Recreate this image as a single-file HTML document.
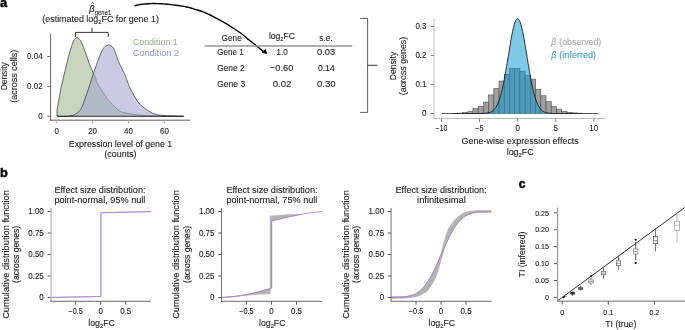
<!DOCTYPE html>
<html><head><meta charset="utf-8"><title>Figure</title>
<style>
html,body{margin:0;padding:0;background:#fff;}
svg{display:block;font-family:"Liberation Sans",sans-serif;}
</style></head><body>
<svg width="685" height="330" viewBox="0 0 685 330">
<rect width="685" height="330" fill="#fff"/>
<text x="-0.1" y="6.5" font-size="12.8" font-weight="bold" fill="#000" stroke="#000" stroke-width="0.45">a</text>
<path d="M57.00 116.30 L57.00 109.80 L57.19 108.79 L57.46 107.42 L57.77 105.78 L58.11 103.98 L58.46 102.12 L58.80 100.30 L59.13 98.48 L59.46 96.56 L59.79 94.58 L60.14 92.57 L60.51 90.57 L60.90 88.60 L61.32 86.65 L61.76 84.69 L62.23 82.72 L62.69 80.78 L63.15 78.87 L63.60 77.00 L64.02 75.20 L64.43 73.46 L64.84 71.76 L65.24 70.05 L65.66 68.31 L66.10 66.50 L66.56 64.59 L67.04 62.61 L67.52 60.59 L68.02 58.58 L68.51 56.64 L69.00 54.80 L69.49 53.04 L69.99 51.31 L70.49 49.64 L70.99 48.06 L71.46 46.60 L71.90 45.30 L72.31 44.17 L72.69 43.19 L73.04 42.33 L73.39 41.56 L73.74 40.86 L74.10 40.20 L74.47 39.57 L74.83 38.99 L75.20 38.47 L75.57 38.04 L75.93 37.71 L76.30 37.50 L76.67 37.44 L77.03 37.51 L77.40 37.68 L77.77 37.93 L78.13 38.21 L78.50 38.50 L78.86 38.77 L79.21 39.04 L79.56 39.35 L79.91 39.74 L80.29 40.24 L80.70 40.90 L81.14 41.74 L81.61 42.74 L82.11 43.85 L82.61 45.04 L83.11 46.27 L83.60 47.50 L84.08 48.75 L84.57 50.06 L85.05 51.41 L85.53 52.77 L86.02 54.14 L86.50 55.50 L86.98 56.85 L87.47 58.22 L87.95 59.59 L88.43 60.96 L88.92 62.30 L89.40 63.60 L89.88 64.87 L90.36 66.12 L90.84 67.35 L91.33 68.56 L91.81 69.74 L92.30 70.90 L92.81 72.05 L93.35 73.20 L93.89 74.32 L94.41 75.40 L94.89 76.44 L95.30 77.40 L95.61 78.27 L95.83 79.06 L96.01 79.79 L96.18 80.50 L96.40 81.23 L96.70 82.00 L97.10 82.83 L97.55 83.69 L98.05 84.56 L98.57 85.43 L99.09 86.28 L99.60 87.10 L100.10 87.87 L100.60 88.62 L101.10 89.34 L101.60 90.06 L102.10 90.77 L102.60 91.50 L103.09 92.23 L103.57 92.97 L104.06 93.70 L104.54 94.43 L105.02 95.17 L105.50 95.90 L105.98 96.65 L106.47 97.42 L106.95 98.19 L107.43 98.94 L107.92 99.65 L108.40 100.30 L108.88 100.87 L109.37 101.38 L109.85 101.84 L110.33 102.29 L110.82 102.73 L111.30 103.20 L111.78 103.68 L112.26 104.17 L112.74 104.65 L113.23 105.13 L113.71 105.62 L114.20 106.10 L114.70 106.59 L115.20 107.09 L115.70 107.59 L116.20 108.09 L116.70 108.56 L117.20 109.00 L117.69 109.42 L118.17 109.82 L118.66 110.21 L119.14 110.57 L119.62 110.90 L120.10 111.20 L120.58 111.46 L121.07 111.69 L121.55 111.89 L122.03 112.07 L122.52 112.24 L123.00 112.40 L123.45 112.54 L123.86 112.66 L124.26 112.77 L124.71 112.87 L125.24 112.98 L125.90 113.10 L126.71 113.24 L127.65 113.39 L128.67 113.54 L129.73 113.69 L130.79 113.85 L131.80 114.00 L132.76 114.15 L133.71 114.31 L134.66 114.47 L135.61 114.62 L136.59 114.77 L137.60 114.90 L138.62 115.02 L139.64 115.13 L140.69 115.23 L141.78 115.33 L142.94 115.42 L144.20 115.50 L145.50 115.58 L146.80 115.65 L148.17 115.72 L149.69 115.78 L151.41 115.84 L153.40 115.90 L155.77 115.96 L158.50 116.01 L161.43 116.06 L164.41 116.11 L167.32 116.16 L170.00 116.20 L172.60 116.24 L175.26 116.28 L177.84 116.32 L180.19 116.35 L182.16 116.38 L183.60 116.40 L183.60 116.30 Z" fill="rgba(160,184,146,0.58)" stroke="#262626" stroke-width="0.7" stroke-linejoin="round"/>
<path d="M57.00 116.30 L58.21 116.31 L59.95 116.33 L61.98 116.34 L64.06 116.35 L65.98 116.34 L67.50 116.30 L68.60 116.23 L69.45 116.15 L70.13 116.04 L70.72 115.92 L71.28 115.77 L71.90 115.60 L72.55 115.41 L73.16 115.21 L73.74 114.99 L74.32 114.73 L74.90 114.44 L75.50 114.10 L76.12 113.72 L76.76 113.29 L77.39 112.83 L78.02 112.33 L78.63 111.79 L79.20 111.20 L79.73 110.60 L80.23 109.98 L80.70 109.32 L81.16 108.59 L81.63 107.76 L82.10 106.80 L82.58 105.68 L83.06 104.43 L83.54 103.07 L84.03 101.65 L84.51 100.22 L85.00 98.80 L85.50 97.39 L86.00 95.96 L86.50 94.50 L87.00 93.03 L87.50 91.56 L88.00 90.10 L88.49 88.64 L88.97 87.18 L89.46 85.72 L89.94 84.25 L90.42 82.78 L90.90 81.30 L91.38 79.80 L91.87 78.28 L92.35 76.75 L92.83 75.23 L93.32 73.74 L93.80 72.30 L94.28 70.91 L94.77 69.56 L95.25 68.24 L95.73 66.93 L96.22 65.62 L96.70 64.30 L97.18 62.95 L97.66 61.58 L98.14 60.21 L98.63 58.86 L99.11 57.55 L99.60 56.30 L100.10 55.08 L100.60 53.89 L101.10 52.72 L101.60 51.63 L102.10 50.61 L102.60 49.70 L103.09 48.90 L103.57 48.19 L104.06 47.56 L104.54 47.00 L105.02 46.52 L105.50 46.10 L105.98 45.75 L106.47 45.47 L106.95 45.26 L107.43 45.11 L107.92 45.03 L108.40 45.00 L108.89 45.04 L109.39 45.17 L109.89 45.35 L110.39 45.58 L110.86 45.83 L111.30 46.10 L111.71 46.36 L112.09 46.61 L112.44 46.89 L112.79 47.23 L113.14 47.66 L113.50 48.20 L113.87 48.87 L114.23 49.66 L114.60 50.53 L114.97 51.46 L115.33 52.42 L115.70 53.40 L116.07 54.42 L116.43 55.52 L116.80 56.66 L117.17 57.79 L117.53 58.88 L117.90 59.90 L118.27 60.84 L118.63 61.74 L119.00 62.60 L119.37 63.43 L119.73 64.22 L120.10 65.00 L120.47 65.73 L120.83 66.42 L121.20 67.07 L121.57 67.73 L121.93 68.39 L122.30 69.10 L122.68 69.86 L123.06 70.66 L123.45 71.48 L123.83 72.29 L124.18 73.07 L124.50 73.80 L124.78 74.46 L125.02 75.07 L125.24 75.65 L125.46 76.22 L125.67 76.80 L125.90 77.40 L126.14 78.01 L126.37 78.61 L126.60 79.21 L126.84 79.85 L127.11 80.54 L127.40 81.30 L127.73 82.17 L128.08 83.14 L128.46 84.17 L128.84 85.20 L129.23 86.19 L129.60 87.10 L129.96 87.91 L130.31 88.64 L130.66 89.34 L131.01 90.03 L131.39 90.74 L131.80 91.50 L132.24 92.31 L132.71 93.16 L133.21 94.02 L133.71 94.89 L134.21 95.75 L134.70 96.60 L135.18 97.45 L135.67 98.31 L136.15 99.17 L136.63 100.00 L137.12 100.78 L137.60 101.50 L138.08 102.14 L138.57 102.71 L139.05 103.24 L139.53 103.74 L140.02 104.22 L140.50 104.70 L140.98 105.17 L141.46 105.63 L141.94 106.06 L142.43 106.49 L142.91 106.90 L143.40 107.30 L143.89 107.69 L144.37 108.06 L144.86 108.42 L145.35 108.78 L145.86 109.14 L146.40 109.50 L146.97 109.87 L147.56 110.25 L148.18 110.62 L148.79 111.00 L149.40 111.36 L150.00 111.70 L150.56 112.03 L151.08 112.34 L151.60 112.64 L152.14 112.94 L152.73 113.22 L153.40 113.50 L154.15 113.78 L154.95 114.06 L155.80 114.33 L156.70 114.58 L157.63 114.81 L158.60 115.00 L159.61 115.15 L160.65 115.27 L161.74 115.37 L162.86 115.45 L164.01 115.52 L165.20 115.60 L166.40 115.68 L167.61 115.75 L168.85 115.81 L170.15 115.87 L171.52 115.94 L173.00 116.00 L174.73 116.07 L176.72 116.15 L178.79 116.22 L180.75 116.30 L182.41 116.36 L183.60 116.40 L183.60 116.30 L57.00 116.30 Z" fill="rgba(160,166,204,0.58)" stroke="#262626" stroke-width="0.7" stroke-linejoin="round"/>
<line x1="50.60" y1="34.00" x2="50.60" y2="120.60" stroke="#3a3a3a" stroke-width="0.8"/>
<line x1="50.20" y1="120.20" x2="190.40" y2="120.20" stroke="#3a3a3a" stroke-width="0.8"/>
<line x1="47.20" y1="116.30" x2="50.60" y2="116.30" stroke="#555" stroke-width="0.8"/>
<text x="42.60" y="118.80" font-size="8.4" text-anchor="end" fill="#222" stroke="#222" stroke-width="0.1" textLength="4.44" lengthAdjust="spacingAndGlyphs">0</text>
<line x1="47.20" y1="86.40" x2="50.60" y2="86.40" stroke="#555" stroke-width="0.8"/>
<text x="42.60" y="88.90" font-size="8.4" text-anchor="end" fill="#222" stroke="#222" stroke-width="0.1" textLength="15.53" lengthAdjust="spacingAndGlyphs">0.02</text>
<line x1="47.20" y1="56.50" x2="50.60" y2="56.50" stroke="#555" stroke-width="0.8"/>
<text x="42.60" y="59.00" font-size="8.4" text-anchor="end" fill="#222" stroke="#222" stroke-width="0.1" textLength="15.53" lengthAdjust="spacingAndGlyphs">0.04</text>
<line x1="56.70" y1="120.40" x2="56.70" y2="123.60" stroke="#aaa" stroke-width="0.9"/>
<text x="56.70" y="133.50" font-size="8.4" text-anchor="middle" fill="#222" stroke="#222" stroke-width="0.1" textLength="4.44" lengthAdjust="spacingAndGlyphs">0</text>
<line x1="92.60" y1="120.40" x2="92.60" y2="123.60" stroke="#aaa" stroke-width="0.9"/>
<text x="92.60" y="133.50" font-size="8.4" text-anchor="middle" fill="#222" stroke="#222" stroke-width="0.1" textLength="8.88" lengthAdjust="spacingAndGlyphs">20</text>
<line x1="128.50" y1="120.40" x2="128.50" y2="123.60" stroke="#aaa" stroke-width="0.9"/>
<text x="128.50" y="133.50" font-size="8.4" text-anchor="middle" fill="#222" stroke="#222" stroke-width="0.1" textLength="8.88" lengthAdjust="spacingAndGlyphs">40</text>
<line x1="164.40" y1="120.40" x2="164.40" y2="123.60" stroke="#aaa" stroke-width="0.9"/>
<text x="164.40" y="133.50" font-size="8.4" text-anchor="middle" fill="#222" stroke="#222" stroke-width="0.1" textLength="8.88" lengthAdjust="spacingAndGlyphs">60</text>
<text x="120.50" y="146.90" font-size="9.2" text-anchor="middle" fill="#222" stroke="#222" stroke-width="0.1" textLength="103.50" lengthAdjust="spacingAndGlyphs">Expression level of gene 1</text>
<text x="120.50" y="156.90" font-size="9.2" text-anchor="middle" fill="#222" stroke="#222" stroke-width="0.1" textLength="32.23" lengthAdjust="spacingAndGlyphs">(counts)</text>
<text x="7.40" y="76.30" font-size="9.2" text-anchor="middle" fill="#222" stroke="#222" stroke-width="0.1" textLength="28.00" lengthAdjust="spacingAndGlyphs" transform="rotate(-90 7.40 76.30)">Density</text>
<text x="17.00" y="76.30" font-size="9.2" text-anchor="middle" fill="#222" stroke="#222" stroke-width="0.1" textLength="53.00" lengthAdjust="spacingAndGlyphs" transform="rotate(-90 17.00 76.30)">(across cells)</text>
<path d="M75.5 36.8 V32.4 H108.2 V36.8 M92 32.4 V27.6" fill="none" stroke="#222" stroke-width="0.9" />
<text x="100.60" y="22.10" font-size="9.2" text-anchor="middle" fill="#222" stroke="#222" stroke-width="0.1" textLength="116.60" lengthAdjust="spacingAndGlyphs">(estimated log<tspan font-size="6" dy="1.9">2</tspan><tspan dy="-1.9">FC</tspan> for gene 1)</text>
<text x="89.30" y="11.60" font-size="9.3" text-anchor="start" fill="#222" stroke="#222" stroke-width="0.1" textLength="5.35" lengthAdjust="spacingAndGlyphs" font-style="italic">β</text>
<text x="91.50" y="6.40" font-size="5.2" text-anchor="start" fill="#222" stroke="#222" stroke-width="0.1" textLength="2.44" lengthAdjust="spacingAndGlyphs">^</text>
<text x="94.80" y="14.60" font-size="6.6" text-anchor="start" fill="#222" stroke="#222" stroke-width="0.1" textLength="16.40" lengthAdjust="spacingAndGlyphs">gene1</text>
<text x="132.80" y="45.20" font-size="9.2" text-anchor="start" fill="#9cb68f" stroke="#9cb68f" stroke-width="0.1" textLength="45.00" lengthAdjust="spacingAndGlyphs">Condition 1</text>
<text x="132.80" y="55.70" font-size="9.2" text-anchor="start" fill="#9aa0cc" stroke="#9aa0cc" stroke-width="0.1" textLength="46.10" lengthAdjust="spacingAndGlyphs">Condition 2</text>
<path d="M134.40 5.70 L135.41 5.50 L136.81 5.21 L138.47 4.88 L140.25 4.56 L142.00 4.30 L143.76 4.10 L145.63 3.93 L147.54 3.79 L149.45 3.68 L151.30 3.60 L153.08 3.56 L154.82 3.55 L156.54 3.58 L158.26 3.63 L160.00 3.70 L161.72 3.79 L163.40 3.90 L165.10 4.04 L166.88 4.21 L168.80 4.40 L170.94 4.63 L173.26 4.90 L175.64 5.20 L177.93 5.50 L180.00 5.80 L181.82 6.09 L183.48 6.37 L185.03 6.66 L186.52 6.97 L188.00 7.30 L189.45 7.66 L190.82 8.04 L192.18 8.44 L193.55 8.86 L195.00 9.30 L196.55 9.76 L198.17 10.23 L199.81 10.73 L201.44 11.25 L203.00 11.80 L204.36 12.32 L205.56 12.79 L206.79 13.33 L208.27 14.03 L210.20 15.00 L212.71 16.29 L215.67 17.84 L218.87 19.56 L222.15 21.38 L225.30 23.20 L228.46 25.12 L231.74 27.18 L234.97 29.27 L237.95 31.25 L240.50 33.00 L242.49 34.46 L244.05 35.71 L245.36 36.84 L246.62 37.95 L248.00 39.10 L249.51 40.30 L251.02 41.49 L252.54 42.68 L254.07 43.88 L255.60 45.10 L257.27 46.46 L259.08 47.94 L260.83 49.38 L262.34 50.62 L263.40 51.50" fill="none" stroke="#000" stroke-width="1.4" />
<path d="M267.2 53.9 L261.7 52.8 L265.6 48.7 Z" fill="#000"/>
<text x="231.70" y="40.70" font-size="9.2" text-anchor="middle" fill="#222" stroke="#222" stroke-width="0.1" textLength="20.20" lengthAdjust="spacingAndGlyphs">Gene</text>
<text x="281.90" y="39.20" font-size="9.2" text-anchor="middle" fill="#222" stroke="#222" stroke-width="0.1" textLength="26.00" lengthAdjust="spacingAndGlyphs">log<tspan font-size="6" dy="1.9">2</tspan><tspan dy="-1.9">FC</tspan></text>
<text x="326.00" y="40.70" font-size="9.2" text-anchor="middle" fill="#222" stroke="#222" stroke-width="0.1" textLength="13.30" lengthAdjust="spacingAndGlyphs">s.e.</text>
<line x1="204.80" y1="46.00" x2="352.30" y2="46.00" stroke="#959595" stroke-width="1.4"/>
<text x="217.20" y="55.20" font-size="9.2" text-anchor="start" fill="#222" stroke="#222" stroke-width="0.1" textLength="26.50" lengthAdjust="spacingAndGlyphs">Gene 1</text>
<text x="282.10" y="55.20" font-size="9.2" text-anchor="middle" fill="#222" stroke="#222" stroke-width="0.1" textLength="11.20" lengthAdjust="spacingAndGlyphs">1.0</text>
<text x="326.10" y="55.20" font-size="9.2" text-anchor="middle" fill="#222" stroke="#222" stroke-width="0.1" textLength="18.20" lengthAdjust="spacingAndGlyphs">0.03</text>
<text x="217.20" y="71.00" font-size="9.2" text-anchor="start" fill="#222" stroke="#222" stroke-width="0.1" textLength="27.50" lengthAdjust="spacingAndGlyphs">Gene 2</text>
<text x="281.60" y="71.00" font-size="9.2" text-anchor="middle" fill="#222" stroke="#222" stroke-width="0.1" textLength="23.50" lengthAdjust="spacingAndGlyphs">−0.60</text>
<text x="326.30" y="71.00" font-size="9.2" text-anchor="middle" fill="#222" stroke="#222" stroke-width="0.1" textLength="16.80" lengthAdjust="spacingAndGlyphs">0.14</text>
<text x="217.20" y="87.00" font-size="9.2" text-anchor="start" fill="#222" stroke="#222" stroke-width="0.1" textLength="28.00" lengthAdjust="spacingAndGlyphs">Gene 3</text>
<text x="282.00" y="87.00" font-size="9.2" text-anchor="middle" fill="#222" stroke="#222" stroke-width="0.1" textLength="18.60" lengthAdjust="spacingAndGlyphs">0.02</text>
<text x="326.30" y="87.00" font-size="9.2" text-anchor="middle" fill="#222" stroke="#222" stroke-width="0.1" textLength="18.80" lengthAdjust="spacingAndGlyphs">0.30</text>
<path d="M360.2 18.5 H367.6 V112.4 H360.2" fill="none" stroke="#333" stroke-width="0.8" />
<line x1="367.60" y1="65.30" x2="377.40" y2="65.30" stroke="#333" stroke-width="1.0"/>
<rect x="452.06" y="113.36" width="5.22" height="0.14" fill="#a0a0a0" stroke="#4c4c4c" stroke-width="0.6"/>
<rect x="457.28" y="113.15" width="5.22" height="0.35" fill="#a0a0a0" stroke="#4c4c4c" stroke-width="0.6"/>
<rect x="462.50" y="112.63" width="5.22" height="0.87" fill="#a0a0a0" stroke="#4c4c4c" stroke-width="0.6"/>
<rect x="467.72" y="111.70" width="5.22" height="1.80" fill="#a0a0a0" stroke="#4c4c4c" stroke-width="0.6"/>
<rect x="472.94" y="108.66" width="5.22" height="4.84" fill="#a0a0a0" stroke="#4c4c4c" stroke-width="0.6"/>
<rect x="478.16" y="106.54" width="5.22" height="6.96" fill="#a0a0a0" stroke="#4c4c4c" stroke-width="0.6"/>
<rect x="483.38" y="102.05" width="5.22" height="11.46" fill="#a0a0a0" stroke="#4c4c4c" stroke-width="0.6"/>
<rect x="488.60" y="94.94" width="5.22" height="18.56" fill="#a0a0a0" stroke="#4c4c4c" stroke-width="0.6"/>
<rect x="493.82" y="88.56" width="5.22" height="24.94" fill="#a0a0a0" stroke="#4c4c4c" stroke-width="0.6"/>
<rect x="499.04" y="81.02" width="5.22" height="32.48" fill="#a0a0a0" stroke="#4c4c4c" stroke-width="0.6"/>
<rect x="504.26" y="74.35" width="5.22" height="39.15" fill="#a0a0a0" stroke="#4c4c4c" stroke-width="0.6"/>
<rect x="509.48" y="68.38" width="5.22" height="45.12" fill="#a0a0a0" stroke="#4c4c4c" stroke-width="0.6"/>
<rect x="514.70" y="68.38" width="5.22" height="45.12" fill="#a0a0a0" stroke="#4c4c4c" stroke-width="0.6"/>
<rect x="519.92" y="71.16" width="5.22" height="42.34" fill="#a0a0a0" stroke="#4c4c4c" stroke-width="0.6"/>
<rect x="525.14" y="75.51" width="5.22" height="37.99" fill="#a0a0a0" stroke="#4c4c4c" stroke-width="0.6"/>
<rect x="530.36" y="79.14" width="5.22" height="34.36" fill="#a0a0a0" stroke="#4c4c4c" stroke-width="0.6"/>
<rect x="535.58" y="89.43" width="5.22" height="24.07" fill="#a0a0a0" stroke="#4c4c4c" stroke-width="0.6"/>
<rect x="540.80" y="95.81" width="5.22" height="17.69" fill="#a0a0a0" stroke="#4c4c4c" stroke-width="0.6"/>
<rect x="546.02" y="101.61" width="5.22" height="11.89" fill="#a0a0a0" stroke="#4c4c4c" stroke-width="0.6"/>
<rect x="551.24" y="106.54" width="5.22" height="6.96" fill="#a0a0a0" stroke="#4c4c4c" stroke-width="0.6"/>
<rect x="556.46" y="109.15" width="5.22" height="4.35" fill="#a0a0a0" stroke="#4c4c4c" stroke-width="0.6"/>
<rect x="561.68" y="111.35" width="5.22" height="2.15" fill="#a0a0a0" stroke="#4c4c4c" stroke-width="0.6"/>
<rect x="566.90" y="112.34" width="5.22" height="1.16" fill="#a0a0a0" stroke="#4c4c4c" stroke-width="0.6"/>
<rect x="572.12" y="112.92" width="5.22" height="0.58" fill="#a0a0a0" stroke="#4c4c4c" stroke-width="0.6"/>
<rect x="577.34" y="113.21" width="5.22" height="0.29" fill="#a0a0a0" stroke="#4c4c4c" stroke-width="0.6"/>
<path d="M441.78 113.50 L442.54 113.50 L443.31 113.50 L444.07 113.50 L444.83 113.50 L445.59 113.50 L446.35 113.50 L447.12 113.50 L447.88 113.50 L448.64 113.50 L449.40 113.50 L450.16 113.50 L450.93 113.50 L451.69 113.50 L452.45 113.50 L453.21 113.50 L453.97 113.50 L454.73 113.50 L455.50 113.50 L456.26 113.50 L457.02 113.50 L457.78 113.50 L458.54 113.50 L459.31 113.50 L460.07 113.50 L460.83 113.50 L461.59 113.50 L462.35 113.50 L463.12 113.50 L463.88 113.50 L464.64 113.50 L465.40 113.50 L466.16 113.50 L466.93 113.50 L467.69 113.50 L468.45 113.50 L469.21 113.50 L469.97 113.50 L470.74 113.50 L471.50 113.50 L472.26 113.50 L473.02 113.50 L473.78 113.50 L474.55 113.50 L475.31 113.50 L476.07 113.50 L476.83 113.49 L477.59 113.49 L478.36 113.49 L479.12 113.48 L479.88 113.47 L480.64 113.46 L481.40 113.45 L482.17 113.43 L482.93 113.41 L483.69 113.38 L484.45 113.34 L485.21 113.28 L485.98 113.21 L486.74 113.12 L487.50 113.00 L488.26 112.85 L489.02 112.66 L489.79 112.42 L490.55 112.12 L491.31 111.76 L492.07 111.31 L492.83 110.77 L493.60 110.12 L494.36 109.33 L495.12 108.40 L495.88 107.31 L496.64 106.02 L497.41 104.54 L498.17 102.83 L498.93 100.88 L499.69 98.67 L500.45 96.19 L501.22 93.43 L501.98 90.39 L502.74 87.06 L503.50 83.46 L504.26 79.60 L505.03 75.50 L505.79 71.19 L506.55 66.70 L507.31 62.09 L508.07 57.40 L508.84 52.69 L509.60 48.02 L510.36 43.47 L511.12 39.11 L511.88 35.00 L512.65 31.22 L513.41 27.83 L514.17 24.91 L514.93 22.49 L515.69 20.64 L516.46 19.38 L517.22 18.75 L517.98 18.75 L518.74 19.38 L519.50 20.64 L520.27 22.49 L521.03 24.91 L521.79 27.83 L522.55 31.22 L523.31 35.00 L524.08 39.11 L524.84 43.47 L525.60 48.02 L526.36 52.69 L527.12 57.40 L527.89 62.09 L528.65 66.70 L529.41 71.19 L530.17 75.50 L530.93 79.60 L531.70 83.46 L532.46 87.06 L533.22 90.39 L533.98 93.43 L534.74 96.19 L535.51 98.67 L536.27 100.88 L537.03 102.83 L537.79 104.54 L538.55 106.02 L539.32 107.31 L540.08 108.40 L540.84 109.33 L541.60 110.12 L542.36 110.77 L543.13 111.31 L543.89 111.76 L544.65 112.12 L545.41 112.42 L546.17 112.66 L546.94 112.85 L547.70 113.00 L548.46 113.12 L549.22 113.21 L549.98 113.28 L550.75 113.34 L551.51 113.38 L552.27 113.41 L553.03 113.43 L553.79 113.45 L554.56 113.46 L555.32 113.47 L556.08 113.48 L556.84 113.49 L557.60 113.49 L558.37 113.49 L559.13 113.50 L559.89 113.50 L560.65 113.50 L561.41 113.50 L562.18 113.50 L562.94 113.50 L563.70 113.50 L564.46 113.50 L565.22 113.50 L565.99 113.50 L566.75 113.50 L567.51 113.50 L568.27 113.50 L569.03 113.50 L569.80 113.50 L570.56 113.50 L571.32 113.50 L572.08 113.50 L572.84 113.50 L573.61 113.50 L574.37 113.50 L575.13 113.50 L575.89 113.50 L576.65 113.50 L577.42 113.50 L578.18 113.50 L578.94 113.50 L579.70 113.50 L580.46 113.50 L581.23 113.50 L581.99 113.50 L582.75 113.50 L583.51 113.50 L584.27 113.50 L585.04 113.50 L585.80 113.50 L586.56 113.50 L587.32 113.50 L588.08 113.50 L588.85 113.50 L589.61 113.50 L590.37 113.50 L591.13 113.50 L591.89 113.50 L592.66 113.50 L593.42 113.50 L594.18 113.50 L594.94 113.50 L595.70 113.50 L596.47 113.50 L597.23 113.50 L597.99 113.50 L597.99 113.50 L441.78 113.50 Z" fill="rgba(0,150,206,0.5)" stroke="none" stroke-width="0.6" />
<path d="M441.78 113.50 L442.54 113.50 L443.31 113.50 L444.07 113.50 L444.83 113.50 L445.59 113.50 L446.35 113.50 L447.12 113.50 L447.88 113.50 L448.64 113.50 L449.40 113.50 L450.16 113.50 L450.93 113.50 L451.69 113.50 L452.45 113.50 L453.21 113.50 L453.97 113.50 L454.73 113.50 L455.50 113.50 L456.26 113.50 L457.02 113.50 L457.78 113.50 L458.54 113.50 L459.31 113.50 L460.07 113.50 L460.83 113.50 L461.59 113.50 L462.35 113.50 L463.12 113.50 L463.88 113.50 L464.64 113.50 L465.40 113.50 L466.16 113.50 L466.93 113.50 L467.69 113.50 L468.45 113.50 L469.21 113.50 L469.97 113.50 L470.74 113.50 L471.50 113.50 L472.26 113.50 L473.02 113.50 L473.78 113.50 L474.55 113.50 L475.31 113.50 L476.07 113.50 L476.83 113.49 L477.59 113.49 L478.36 113.49 L479.12 113.48 L479.88 113.47 L480.64 113.46 L481.40 113.45 L482.17 113.43 L482.93 113.41 L483.69 113.38 L484.45 113.34 L485.21 113.28 L485.98 113.21 L486.74 113.12 L487.50 113.00 L488.26 112.85 L489.02 112.66 L489.79 112.42 L490.55 112.12 L491.31 111.76 L492.07 111.31 L492.83 110.77 L493.60 110.12 L494.36 109.33 L495.12 108.40 L495.88 107.31 L496.64 106.02 L497.41 104.54 L498.17 102.83 L498.93 100.88 L499.69 98.67 L500.45 96.19 L501.22 93.43 L501.98 90.39 L502.74 87.06 L503.50 83.46 L504.26 79.60 L505.03 75.50 L505.79 71.19 L506.55 66.70 L507.31 62.09 L508.07 57.40 L508.84 52.69 L509.60 48.02 L510.36 43.47 L511.12 39.11 L511.88 35.00 L512.65 31.22 L513.41 27.83 L514.17 24.91 L514.93 22.49 L515.69 20.64 L516.46 19.38 L517.22 18.75 L517.98 18.75 L518.74 19.38 L519.50 20.64 L520.27 22.49 L521.03 24.91 L521.79 27.83 L522.55 31.22 L523.31 35.00 L524.08 39.11 L524.84 43.47 L525.60 48.02 L526.36 52.69 L527.12 57.40 L527.89 62.09 L528.65 66.70 L529.41 71.19 L530.17 75.50 L530.93 79.60 L531.70 83.46 L532.46 87.06 L533.22 90.39 L533.98 93.43 L534.74 96.19 L535.51 98.67 L536.27 100.88 L537.03 102.83 L537.79 104.54 L538.55 106.02 L539.32 107.31 L540.08 108.40 L540.84 109.33 L541.60 110.12 L542.36 110.77 L543.13 111.31 L543.89 111.76 L544.65 112.12 L545.41 112.42 L546.17 112.66 L546.94 112.85 L547.70 113.00 L548.46 113.12 L549.22 113.21 L549.98 113.28 L550.75 113.34 L551.51 113.38 L552.27 113.41 L553.03 113.43 L553.79 113.45 L554.56 113.46 L555.32 113.47 L556.08 113.48 L556.84 113.49 L557.60 113.49 L558.37 113.49 L559.13 113.50 L559.89 113.50 L560.65 113.50 L561.41 113.50 L562.18 113.50 L562.94 113.50 L563.70 113.50 L564.46 113.50 L565.22 113.50 L565.99 113.50 L566.75 113.50 L567.51 113.50 L568.27 113.50 L569.03 113.50 L569.80 113.50 L570.56 113.50 L571.32 113.50 L572.08 113.50 L572.84 113.50 L573.61 113.50 L574.37 113.50 L575.13 113.50 L575.89 113.50 L576.65 113.50 L577.42 113.50 L578.18 113.50 L578.94 113.50 L579.70 113.50 L580.46 113.50 L581.23 113.50 L581.99 113.50 L582.75 113.50 L583.51 113.50 L584.27 113.50 L585.04 113.50 L585.80 113.50 L586.56 113.50 L587.32 113.50 L588.08 113.50 L588.85 113.50 L589.61 113.50 L590.37 113.50 L591.13 113.50 L591.89 113.50 L592.66 113.50 L593.42 113.50 L594.18 113.50 L594.94 113.50 L595.70 113.50 L596.47 113.50 L597.23 113.50 L597.99 113.50" fill="none" stroke="#111" stroke-width="0.85" />
<line x1="434.00" y1="19.00" x2="434.00" y2="118.50" stroke="#bbb" stroke-width="1.0"/>
<line x1="433.50" y1="118.50" x2="605.50" y2="118.50" stroke="#bbb" stroke-width="1.0"/>
<line x1="430.50" y1="113.50" x2="434.00" y2="113.50" stroke="#555" stroke-width="0.7"/>
<text x="426.50" y="115.60" font-size="8.4" text-anchor="end" fill="#222" stroke="#222" stroke-width="0.1" textLength="4.44" lengthAdjust="spacingAndGlyphs">0</text>
<line x1="430.50" y1="84.50" x2="434.00" y2="84.50" stroke="#555" stroke-width="0.7"/>
<text x="426.50" y="86.60" font-size="8.4" text-anchor="end" fill="#222" stroke="#222" stroke-width="0.1" textLength="11.09" lengthAdjust="spacingAndGlyphs">0.1</text>
<line x1="430.50" y1="55.50" x2="434.00" y2="55.50" stroke="#555" stroke-width="0.7"/>
<text x="426.50" y="57.60" font-size="8.4" text-anchor="end" fill="#222" stroke="#222" stroke-width="0.1" textLength="11.09" lengthAdjust="spacingAndGlyphs">0.2</text>
<line x1="430.50" y1="26.50" x2="434.00" y2="26.50" stroke="#555" stroke-width="0.7"/>
<text x="426.50" y="28.60" font-size="8.4" text-anchor="end" fill="#222" stroke="#222" stroke-width="0.1" textLength="11.09" lengthAdjust="spacingAndGlyphs">0.3</text>
<line x1="441.40" y1="118.50" x2="441.40" y2="122.00" stroke="#555" stroke-width="0.7"/>
<text x="441.40" y="131.00" font-size="8.4" text-anchor="middle" fill="#222" stroke="#222" stroke-width="0.1" textLength="11.70" lengthAdjust="spacingAndGlyphs">−10</text>
<line x1="479.50" y1="118.50" x2="479.50" y2="122.00" stroke="#555" stroke-width="0.7"/>
<text x="479.50" y="131.00" font-size="8.4" text-anchor="middle" fill="#222" stroke="#222" stroke-width="0.1" textLength="8.40" lengthAdjust="spacingAndGlyphs">−5</text>
<line x1="517.60" y1="118.50" x2="517.60" y2="122.00" stroke="#555" stroke-width="0.7"/>
<text x="517.60" y="131.00" font-size="8.4" text-anchor="middle" fill="#222" stroke="#222" stroke-width="0.1" textLength="4.44" lengthAdjust="spacingAndGlyphs">0</text>
<line x1="555.70" y1="118.50" x2="555.70" y2="122.00" stroke="#555" stroke-width="0.7"/>
<text x="555.70" y="131.00" font-size="8.4" text-anchor="middle" fill="#222" stroke="#222" stroke-width="0.1" textLength="4.44" lengthAdjust="spacingAndGlyphs">5</text>
<line x1="593.80" y1="118.50" x2="593.80" y2="122.00" stroke="#555" stroke-width="0.7"/>
<text x="593.80" y="131.00" font-size="8.4" text-anchor="middle" fill="#222" stroke="#222" stroke-width="0.1" textLength="8.88" lengthAdjust="spacingAndGlyphs">10</text>
<text x="520.20" y="143.60" font-size="9.2" text-anchor="middle" fill="#222" stroke="#222" stroke-width="0.1" textLength="117.30" lengthAdjust="spacingAndGlyphs">Gene-wise expression effects</text>
<text x="520.20" y="154.70" font-size="9.2" text-anchor="middle" fill="#222" stroke="#222" stroke-width="0.1" textLength="27.00" lengthAdjust="spacingAndGlyphs">log<tspan font-size="6" dy="1.9">2</tspan><tspan dy="-1.9">FC</tspan></text>
<text x="395.80" y="66.00" font-size="9.2" text-anchor="middle" fill="#222" stroke="#222" stroke-width="0.1" textLength="28.60" lengthAdjust="spacingAndGlyphs" transform="rotate(-90 395.80 66.00)">Density</text>
<text x="406.30" y="66.00" font-size="9.2" text-anchor="middle" fill="#222" stroke="#222" stroke-width="0.1" textLength="58.30" lengthAdjust="spacingAndGlyphs" transform="rotate(-90 406.30 66.00)">(across genes)</text>
<text x="551.20" y="44.90" font-size="8.6" text-anchor="start" fill="#a8a8a8" stroke="#a8a8a8" stroke-width="0.1" textLength="4.95" lengthAdjust="spacingAndGlyphs" font-style="italic">β</text>
<text x="552.60" y="41.20" font-size="6" text-anchor="start" fill="#c4c4c4" stroke="#c4c4c4" stroke-width="0.1" textLength="2.00" lengthAdjust="spacingAndGlyphs">ˆ</text>
<text x="559.30" y="44.90" font-size="9.2" text-anchor="start" fill="#a8a8a8" stroke="#a8a8a8" stroke-width="0.1" textLength="42.00" lengthAdjust="spacingAndGlyphs">(observed)</text>
<text x="551.20" y="58.00" font-size="8.6" text-anchor="start" fill="#459dc3" stroke="#459dc3" stroke-width="0.1" textLength="4.95" lengthAdjust="spacingAndGlyphs" font-style="italic">β</text>
<text x="559.30" y="58.00" font-size="9.2" text-anchor="start" fill="#459dc3" stroke="#459dc3" stroke-width="0.1" textLength="36.80" lengthAdjust="spacingAndGlyphs">(inferred)</text>
<text x="0" y="177.1" font-size="12.8" font-weight="bold" fill="#000" stroke="#000" stroke-width="0.45">b</text>
<path d="M50.90 297.50 L100.95 296.47 L100.95 212.79 L151.00 211.50" fill="none" stroke="#ccc" stroke-width="1.3" stroke-linejoin="round"/>
<path d="M50.90 297.50 L100.95 296.47 L100.95 212.79 L151.00 211.50" fill="none" stroke="#b174dc" stroke-width="0.8" stroke-linejoin="round"/>
<line x1="51.10" y1="207.90" x2="51.10" y2="301.70" stroke="#c4c4c4" stroke-width="1.5"/>
<line x1="50.40" y1="301.30" x2="151.00" y2="301.30" stroke="#6a6a6a" stroke-width="1.0"/>
<line x1="47.60" y1="297.50" x2="50.60" y2="297.50" stroke="#444" stroke-width="0.9"/>
<text x="43.80" y="300.00" font-size="8.4" text-anchor="end" fill="#222" stroke="#222" stroke-width="0.1" textLength="4.44" lengthAdjust="spacingAndGlyphs">0</text>
<line x1="47.60" y1="276.00" x2="50.60" y2="276.00" stroke="#444" stroke-width="0.9"/>
<text x="43.80" y="278.50" font-size="8.4" text-anchor="end" fill="#222" stroke="#222" stroke-width="0.1" textLength="15.53" lengthAdjust="spacingAndGlyphs">0.25</text>
<line x1="47.60" y1="254.50" x2="50.60" y2="254.50" stroke="#444" stroke-width="0.9"/>
<text x="43.80" y="257.00" font-size="8.4" text-anchor="end" fill="#222" stroke="#222" stroke-width="0.1" textLength="15.53" lengthAdjust="spacingAndGlyphs">0.50</text>
<line x1="47.60" y1="233.00" x2="50.60" y2="233.00" stroke="#444" stroke-width="0.9"/>
<text x="43.80" y="235.50" font-size="8.4" text-anchor="end" fill="#222" stroke="#222" stroke-width="0.1" textLength="15.53" lengthAdjust="spacingAndGlyphs">0.75</text>
<line x1="47.60" y1="211.50" x2="50.60" y2="211.50" stroke="#444" stroke-width="0.9"/>
<text x="43.80" y="214.00" font-size="8.4" text-anchor="end" fill="#222" stroke="#222" stroke-width="0.1" textLength="15.53" lengthAdjust="spacingAndGlyphs">1.00</text>
<line x1="75.72" y1="301.30" x2="75.72" y2="304.70" stroke="#444" stroke-width="0.9"/>
<text x="75.72" y="314.10" font-size="8.4" text-anchor="middle" fill="#222" stroke="#222" stroke-width="0.1" textLength="14.40" lengthAdjust="spacingAndGlyphs">−0.5</text>
<line x1="100.75" y1="301.30" x2="100.75" y2="304.70" stroke="#444" stroke-width="0.9"/>
<text x="100.75" y="314.10" font-size="8.4" text-anchor="middle" fill="#222" stroke="#222" stroke-width="0.1" textLength="4.44" lengthAdjust="spacingAndGlyphs">0</text>
<line x1="125.77" y1="301.30" x2="125.77" y2="304.70" stroke="#444" stroke-width="0.9"/>
<text x="125.77" y="314.10" font-size="8.4" text-anchor="middle" fill="#222" stroke="#222" stroke-width="0.1" textLength="11.09" lengthAdjust="spacingAndGlyphs">0.5</text>
<text x="101.55" y="326.20" font-size="9.2" text-anchor="middle" fill="#222" stroke="#222" stroke-width="0.1" textLength="26.60" lengthAdjust="spacingAndGlyphs">log<tspan font-size="6" dy="1.9">2</tspan><tspan dy="-1.9">FC</tspan></text>
<text x="54.40" y="192.60" font-size="9.2" text-anchor="start" fill="#222" stroke="#222" stroke-width="0.1" textLength="91.10" lengthAdjust="spacingAndGlyphs">Effect size distribution:</text>
<text x="54.40" y="202.80" font-size="9.2" text-anchor="start" fill="#222" stroke="#222" stroke-width="0.1" textLength="91.00" lengthAdjust="spacingAndGlyphs">point-normal, 95% null</text>
<text x="8.50" y="254.50" font-size="9.2" text-anchor="middle" fill="#222" stroke="#222" stroke-width="0.1" textLength="128.70" lengthAdjust="spacingAndGlyphs" transform="rotate(-90 8.50 254.50)">Cumulative distribution function</text>
<text x="19.00" y="254.40" font-size="9.2" text-anchor="middle" fill="#222" stroke="#222" stroke-width="0.1" textLength="57.00" lengthAdjust="spacingAndGlyphs" transform="rotate(-90 19.00 254.40)">(across genes)</text>
<path d="M221.60 297.50 L224.10 297.35 L226.60 297.17 L229.11 296.96 L231.61 296.72 L234.11 296.45 L236.62 296.14 L239.12 295.79 L241.62 295.40 L244.12 294.98 L246.62 294.51 L249.13 294.00 L251.63 293.46 L254.13 292.87 L256.63 292.25 L259.14 291.60 L261.64 290.92 L264.14 290.22 L266.64 289.51 L269.15 288.78 L271.65 288.04 L271.65 221.13 L274.15 220.48 L276.65 219.84 L279.16 219.20 L281.66 218.57 L284.16 217.96 L286.66 217.36 L289.17 216.78 L291.67 216.22 L294.17 215.68 L296.67 215.16 L299.18 214.67 L286.66 214.77 L270.15 216.23 L270.15 293.80 L259.14 294.06 L246.62 295.26 Z" fill="#b2b2b2" stroke="#b2b2b2" stroke-width="0.8" stroke-linejoin="round"/>
<path d="M221.60 297.50 L224.10 297.35 L226.60 297.17 L229.11 296.96 L231.61 296.72 L234.11 296.45 L236.62 296.14 L239.12 295.79 L241.62 295.40 L244.12 294.98 L246.62 294.51 L249.13 294.00 L251.63 293.46 L254.13 292.87 L256.63 292.25 L259.14 291.60 L261.64 290.92 L264.14 290.22 L266.64 289.51 L269.15 288.78 L271.65 288.04 L271.65 221.13 L274.15 220.48 L276.65 219.84 L279.16 219.20 L281.66 218.57 L284.16 217.96 L286.66 217.36 L289.17 216.78 L291.67 216.22 L294.17 215.68 L296.67 215.16 L299.18 214.67 L301.68 214.21 L304.18 213.77 L306.69 213.37 L309.19 212.99 L311.69 212.64 L314.19 212.31 L316.69 212.02 L319.20 211.75 L321.70 211.50" fill="none" stroke="#ab6fd8" stroke-width="0.8" stroke-linejoin="round"/>
<line x1="221.50" y1="207.90" x2="221.50" y2="301.70" stroke="#666" stroke-width="0.9"/>
<line x1="221.10" y1="301.30" x2="321.70" y2="301.30" stroke="#6a6a6a" stroke-width="1.0"/>
<line x1="218.30" y1="297.50" x2="221.30" y2="297.50" stroke="#444" stroke-width="0.9"/>
<text x="214.50" y="300.00" font-size="8.4" text-anchor="end" fill="#222" stroke="#222" stroke-width="0.1" textLength="4.44" lengthAdjust="spacingAndGlyphs">0</text>
<line x1="218.30" y1="276.00" x2="221.30" y2="276.00" stroke="#444" stroke-width="0.9"/>
<text x="214.50" y="278.50" font-size="8.4" text-anchor="end" fill="#222" stroke="#222" stroke-width="0.1" textLength="15.53" lengthAdjust="spacingAndGlyphs">0.25</text>
<line x1="218.30" y1="254.50" x2="221.30" y2="254.50" stroke="#444" stroke-width="0.9"/>
<text x="214.50" y="257.00" font-size="8.4" text-anchor="end" fill="#222" stroke="#222" stroke-width="0.1" textLength="15.53" lengthAdjust="spacingAndGlyphs">0.50</text>
<line x1="218.30" y1="233.00" x2="221.30" y2="233.00" stroke="#444" stroke-width="0.9"/>
<text x="214.50" y="235.50" font-size="8.4" text-anchor="end" fill="#222" stroke="#222" stroke-width="0.1" textLength="15.53" lengthAdjust="spacingAndGlyphs">0.75</text>
<line x1="218.30" y1="211.50" x2="221.30" y2="211.50" stroke="#444" stroke-width="0.9"/>
<text x="214.50" y="214.00" font-size="8.4" text-anchor="end" fill="#222" stroke="#222" stroke-width="0.1" textLength="15.53" lengthAdjust="spacingAndGlyphs">1.00</text>
<line x1="246.43" y1="301.30" x2="246.43" y2="304.70" stroke="#444" stroke-width="0.9"/>
<text x="246.43" y="314.10" font-size="8.4" text-anchor="middle" fill="#222" stroke="#222" stroke-width="0.1" textLength="14.40" lengthAdjust="spacingAndGlyphs">−0.5</text>
<line x1="271.45" y1="301.30" x2="271.45" y2="304.70" stroke="#444" stroke-width="0.9"/>
<text x="271.45" y="314.10" font-size="8.4" text-anchor="middle" fill="#222" stroke="#222" stroke-width="0.1" textLength="4.44" lengthAdjust="spacingAndGlyphs">0</text>
<line x1="296.47" y1="301.30" x2="296.47" y2="304.70" stroke="#444" stroke-width="0.9"/>
<text x="296.47" y="314.10" font-size="8.4" text-anchor="middle" fill="#222" stroke="#222" stroke-width="0.1" textLength="11.09" lengthAdjust="spacingAndGlyphs">0.5</text>
<text x="272.25" y="326.20" font-size="9.2" text-anchor="middle" fill="#222" stroke="#222" stroke-width="0.1" textLength="26.60" lengthAdjust="spacingAndGlyphs">log<tspan font-size="6" dy="1.9">2</tspan><tspan dy="-1.9">FC</tspan></text>
<text x="226.40" y="192.60" font-size="9.2" text-anchor="start" fill="#222" stroke="#222" stroke-width="0.1" textLength="91.10" lengthAdjust="spacingAndGlyphs">Effect size distribution:</text>
<text x="226.40" y="202.80" font-size="9.2" text-anchor="start" fill="#222" stroke="#222" stroke-width="0.1" textLength="91.00" lengthAdjust="spacingAndGlyphs">point-normal, 75% null</text>
<text x="179.20" y="254.50" font-size="9.2" text-anchor="middle" fill="#222" stroke="#222" stroke-width="0.1" textLength="128.70" lengthAdjust="spacingAndGlyphs" transform="rotate(-90 179.20 254.50)">Cumulative distribution function</text>
<text x="189.70" y="254.40" font-size="9.2" text-anchor="middle" fill="#222" stroke="#222" stroke-width="0.1" textLength="57.00" lengthAdjust="spacingAndGlyphs" transform="rotate(-90 189.70 254.40)">(across genes)</text>
<path d="M391.20 297.46 L392.20 297.45 L393.20 297.44 L394.20 297.43 L395.20 297.41 L396.21 297.38 L397.21 297.36 L398.21 297.32 L399.21 297.28 L400.21 297.23 L401.21 297.17 L402.21 297.10 L403.21 297.01 L404.21 296.91 L405.21 296.80 L406.22 296.66 L407.22 296.49 L408.22 296.30 L409.22 296.09 L410.22 295.83 L411.22 295.54 L412.22 295.21 L413.22 294.84 L414.22 294.41 L415.22 293.93 L416.23 293.39 L417.23 292.79 L418.23 292.12 L419.23 291.37 L420.23 290.55 L421.23 289.66 L422.23 288.67 L423.23 287.60 L424.23 286.45 L425.23 285.20 L426.24 283.86 L427.24 282.42 L428.24 280.90 L429.24 279.28 L430.24 277.58 L431.24 275.79 L432.24 273.91 L433.24 271.97 L434.24 269.95 L435.24 267.87 L436.25 265.73 L437.25 263.54 L438.25 261.32 L439.25 259.06 L440.25 256.79 L441.25 254.50 L442.25 252.21 L443.25 249.94 L444.25 247.68 L445.25 245.46 L446.26 243.27 L447.26 241.13 L448.26 239.05 L449.26 237.03 L450.26 235.09 L451.26 233.21 L452.26 231.42 L453.26 229.72 L454.26 228.10 L455.26 226.58 L456.27 225.14 L457.27 223.80 L458.27 222.55 L459.27 221.40 L460.27 220.33 L461.27 219.34 L462.27 218.45 L463.27 217.63 L464.27 216.88 L465.27 216.21 L466.28 215.61 L467.28 215.07 L468.28 214.59 L469.28 214.16 L470.28 213.79 L471.28 213.46 L472.28 213.17 L473.28 212.91 L474.28 212.70 L475.28 212.51 L476.29 212.34 L477.29 212.20 L478.29 212.09 L479.29 211.99 L480.29 211.90 L481.29 211.83 L482.29 211.77 L483.29 211.72 L484.29 211.68 L485.29 211.64 L486.30 211.62 L487.30 211.59 L488.30 211.57 L489.30 211.56 L490.30 211.55 L491.30 211.54 L491.30 211.50 L490.31 211.50 L488.93 211.49 L487.30 211.49 L485.55 211.49 L483.84 211.49 L482.29 211.50 L480.88 211.51 L479.47 211.52 L478.10 211.53 L476.77 211.55 L475.49 211.60 L474.28 211.67 L473.15 211.77 L472.10 211.90 L471.09 212.04 L470.13 212.21 L469.20 212.40 L468.28 212.62 L467.38 212.85 L466.53 213.10 L465.71 213.37 L464.90 213.68 L464.09 214.02 L463.27 214.42 L462.44 214.86 L461.62 215.32 L460.79 215.83 L459.96 216.39 L459.12 217.04 L458.27 217.78 L457.39 218.61 L456.48 219.53 L455.57 220.52 L454.66 221.59 L453.75 222.74 L452.86 223.97 L452.01 225.14 L451.20 226.21 L450.39 227.37 L449.57 228.77 L448.70 230.59 L447.76 233.00 L446.72 236.20 L445.59 240.10 L444.43 244.42 L443.25 248.88 L442.09 253.19 L441.00 257.08 L439.99 260.60 L439.04 263.99 L438.11 267.24 L437.18 270.33 L436.20 273.25 L435.14 276.00 L433.98 278.60 L432.73 281.06 L431.44 283.36 L430.15 285.45 L428.90 287.31 L427.74 288.90 L426.67 290.14 L425.68 291.06 L424.73 291.73 L423.80 292.27 L422.84 292.75 L421.83 293.29 L420.81 293.85 L419.81 294.36 L418.78 294.82 L417.70 295.24 L416.53 295.61 L415.22 295.95 L413.80 296.25 L412.29 296.49 L410.68 296.70 L408.97 296.87 L407.15 297.02 L405.21 297.16 L402.95 297.27 L400.32 297.35 L397.58 297.40 L394.98 297.44 L392.77 297.47 L391.20 297.50 Z" fill="#b4b4b4" stroke="#b4b4b4" stroke-width="0.6" stroke-linejoin="round"/>
<path d="M391.20 297.50 L392.77 297.47 L394.98 297.44 L397.58 297.40 L400.32 297.35 L402.95 297.27 L405.21 297.16 L407.15 297.02 L408.97 296.87 L410.68 296.70 L412.29 296.49 L413.80 296.25 L415.22 295.95 L416.53 295.61 L417.70 295.24 L418.78 294.82 L419.81 294.36 L420.81 293.85 L421.83 293.29 L422.84 292.75 L423.80 292.27 L424.73 291.73 L425.68 291.06 L426.67 290.14 L427.74 288.90 L428.90 287.31 L430.15 285.45 L431.44 283.36 L432.73 281.06 L433.98 278.60 L435.14 276.00 L436.20 273.25 L437.18 270.33 L438.11 267.24 L439.04 263.99 L439.99 260.60 L441.00 257.08 L442.09 253.19 L443.25 248.88 L444.43 244.42 L445.59 240.10 L446.72 236.20 L447.76 233.00 L448.70 230.59 L449.57 228.77 L450.39 227.37 L451.20 226.21 L452.01 225.14 L452.86 223.97 L453.75 222.74 L454.66 221.59 L455.57 220.52 L456.48 219.53 L457.39 218.61 L458.27 217.78 L459.12 217.04 L459.96 216.39 L460.79 215.83 L461.62 215.32 L462.44 214.86 L463.27 214.42 L464.09 214.02 L464.90 213.68 L465.71 213.37 L466.53 213.10 L467.38 212.85 L468.28 212.62 L469.20 212.40 L470.13 212.21 L471.09 212.04 L472.10 211.90 L473.15 211.77 L474.28 211.67 L475.49 211.60 L476.77 211.55 L478.10 211.53 L479.47 211.52 L480.88 211.51 L482.29 211.50 L483.84 211.49 L485.55 211.49 L487.30 211.49 L488.93 211.49 L490.31 211.50 L491.30 211.50" fill="none" stroke="#b4b4b4" stroke-width="2.4" stroke-linejoin="round"/>
<path d="M391.20 297.46 L392.20 297.45 L393.20 297.44 L394.20 297.43 L395.20 297.41 L396.21 297.38 L397.21 297.36 L398.21 297.32 L399.21 297.28 L400.21 297.23 L401.21 297.17 L402.21 297.10 L403.21 297.01 L404.21 296.91 L405.21 296.80 L406.22 296.66 L407.22 296.49 L408.22 296.30 L409.22 296.09 L410.22 295.83 L411.22 295.54 L412.22 295.21 L413.22 294.84 L414.22 294.41 L415.22 293.93 L416.23 293.39 L417.23 292.79 L418.23 292.12 L419.23 291.37 L420.23 290.55 L421.23 289.66 L422.23 288.67 L423.23 287.60 L424.23 286.45 L425.23 285.20 L426.24 283.86 L427.24 282.42 L428.24 280.90 L429.24 279.28 L430.24 277.58 L431.24 275.79 L432.24 273.91 L433.24 271.97 L434.24 269.95 L435.24 267.87 L436.25 265.73 L437.25 263.54 L438.25 261.32 L439.25 259.06 L440.25 256.79 L441.25 254.50 L442.25 252.21 L443.25 249.94 L444.25 247.68 L445.25 245.46 L446.26 243.27 L447.26 241.13 L448.26 239.05 L449.26 237.03 L450.26 235.09 L451.26 233.21 L452.26 231.42 L453.26 229.72 L454.26 228.10 L455.26 226.58 L456.27 225.14 L457.27 223.80 L458.27 222.55 L459.27 221.40 L460.27 220.33 L461.27 219.34 L462.27 218.45 L463.27 217.63 L464.27 216.88 L465.27 216.21 L466.28 215.61 L467.28 215.07 L468.28 214.59 L469.28 214.16 L470.28 213.79 L471.28 213.46 L472.28 213.17 L473.28 212.91 L474.28 212.70 L475.28 212.51 L476.29 212.34 L477.29 212.20 L478.29 212.09 L479.29 211.99 L480.29 211.90 L481.29 211.83 L482.29 211.77 L483.29 211.72 L484.29 211.68 L485.29 211.64 L486.30 211.62 L487.30 211.59 L488.30 211.57 L489.30 211.56 L490.30 211.55 L491.30 211.54" fill="none" stroke="#ab6fd8" stroke-width="0.8" />
<line x1="391.10" y1="207.90" x2="391.10" y2="301.70" stroke="#666" stroke-width="0.9"/>
<line x1="390.70" y1="301.30" x2="491.30" y2="301.30" stroke="#6a6a6a" stroke-width="1.0"/>
<line x1="387.90" y1="297.50" x2="390.90" y2="297.50" stroke="#444" stroke-width="0.9"/>
<text x="384.10" y="300.00" font-size="8.4" text-anchor="end" fill="#222" stroke="#222" stroke-width="0.1" textLength="4.44" lengthAdjust="spacingAndGlyphs">0</text>
<line x1="387.90" y1="276.00" x2="390.90" y2="276.00" stroke="#444" stroke-width="0.9"/>
<text x="384.10" y="278.50" font-size="8.4" text-anchor="end" fill="#222" stroke="#222" stroke-width="0.1" textLength="15.53" lengthAdjust="spacingAndGlyphs">0.25</text>
<line x1="387.90" y1="254.50" x2="390.90" y2="254.50" stroke="#444" stroke-width="0.9"/>
<text x="384.10" y="257.00" font-size="8.4" text-anchor="end" fill="#222" stroke="#222" stroke-width="0.1" textLength="15.53" lengthAdjust="spacingAndGlyphs">0.50</text>
<line x1="387.90" y1="233.00" x2="390.90" y2="233.00" stroke="#444" stroke-width="0.9"/>
<text x="384.10" y="235.50" font-size="8.4" text-anchor="end" fill="#222" stroke="#222" stroke-width="0.1" textLength="15.53" lengthAdjust="spacingAndGlyphs">0.75</text>
<line x1="387.90" y1="211.50" x2="390.90" y2="211.50" stroke="#444" stroke-width="0.9"/>
<text x="384.10" y="214.00" font-size="8.4" text-anchor="end" fill="#222" stroke="#222" stroke-width="0.1" textLength="15.53" lengthAdjust="spacingAndGlyphs">1.00</text>
<line x1="416.03" y1="301.30" x2="416.03" y2="304.70" stroke="#444" stroke-width="0.9"/>
<text x="416.03" y="314.10" font-size="8.4" text-anchor="middle" fill="#222" stroke="#222" stroke-width="0.1" textLength="14.40" lengthAdjust="spacingAndGlyphs">−0.5</text>
<line x1="441.05" y1="301.30" x2="441.05" y2="304.70" stroke="#444" stroke-width="0.9"/>
<text x="441.05" y="314.10" font-size="8.4" text-anchor="middle" fill="#222" stroke="#222" stroke-width="0.1" textLength="4.44" lengthAdjust="spacingAndGlyphs">0</text>
<line x1="466.08" y1="301.30" x2="466.08" y2="304.70" stroke="#444" stroke-width="0.9"/>
<text x="466.08" y="314.10" font-size="8.4" text-anchor="middle" fill="#222" stroke="#222" stroke-width="0.1" textLength="11.09" lengthAdjust="spacingAndGlyphs">0.5</text>
<text x="441.85" y="326.20" font-size="9.2" text-anchor="middle" fill="#222" stroke="#222" stroke-width="0.1" textLength="26.60" lengthAdjust="spacingAndGlyphs">log<tspan font-size="6" dy="1.9">2</tspan><tspan dy="-1.9">FC</tspan></text>
<text x="395.50" y="192.60" font-size="9.2" text-anchor="start" fill="#222" stroke="#222" stroke-width="0.1" textLength="91.10" lengthAdjust="spacingAndGlyphs">Effect size distribution:</text>
<text x="441.50" y="202.80" font-size="9.2" text-anchor="middle" fill="#222" stroke="#222" stroke-width="0.1" textLength="48.80" lengthAdjust="spacingAndGlyphs">infinitesimal</text>
<text x="348.80" y="254.50" font-size="9.2" text-anchor="middle" fill="#222" stroke="#222" stroke-width="0.1" textLength="128.70" lengthAdjust="spacingAndGlyphs" transform="rotate(-90 348.80 254.50)">Cumulative distribution function</text>
<text x="359.30" y="254.40" font-size="9.2" text-anchor="middle" fill="#222" stroke="#222" stroke-width="0.1" textLength="57.00" lengthAdjust="spacingAndGlyphs" transform="rotate(-90 359.30 254.40)">(across genes)</text>
<text x="518.8" y="187.8" font-size="12.2" font-weight="bold" fill="#000" stroke="#000" stroke-width="0.45">c</text>
<clipPath id="cc"><rect x="557.8" y="200" width="127.2" height="101.1"/></clipPath>
<line x1="552.98" y1="304.16" x2="700.50" y2="196.00" stroke="#111" stroke-width="0.85" clip-path="url(#cc)"/>
<ellipse cx="563.9" cy="296.9" rx="1.7" ry="0.95" fill="#111" transform="rotate(-36 563.9 296.9)"/>
<circle cx="566.4" cy="296.2" r="0.6" fill="#999"/>
<line x1="572.60" y1="291.40" x2="572.60" y2="292.30" stroke="#111" stroke-width="0.8"/>
<line x1="572.60" y1="294.10" x2="572.60" y2="295.80" stroke="#111" stroke-width="0.8"/>
<rect x="570.70" y="292.30" width="3.80" height="1.80" fill="#555" stroke="#111" stroke-width="0.65"/>
<line x1="570.70" y1="293.20" x2="574.50" y2="293.20" stroke="#111" stroke-width="0.55"/>
<line x1="580.60" y1="286.00" x2="580.60" y2="287.70" stroke="#333" stroke-width="0.8"/>
<line x1="580.60" y1="289.30" x2="580.60" y2="290.80" stroke="#333" stroke-width="0.8"/>
<rect x="578.40" y="287.70" width="4.40" height="1.60" fill="#aaa" stroke="#333" stroke-width="0.65"/>
<line x1="578.40" y1="288.50" x2="582.80" y2="288.50" stroke="#333" stroke-width="0.55"/>
<line x1="591.00" y1="277.20" x2="591.00" y2="279.90" stroke="#777" stroke-width="0.8"/>
<line x1="591.00" y1="283.00" x2="591.00" y2="284.80" stroke="#777" stroke-width="0.8"/>
<rect x="588.80" y="279.90" width="4.40" height="3.10" fill="#fff" stroke="#6a6a6a" stroke-width="0.65"/>
<line x1="588.80" y1="281.50" x2="593.20" y2="281.50" stroke="#6a6a6a" stroke-width="0.55"/>
<circle cx="591.00" cy="276.30" r="1.05" fill="#111"/>
<line x1="603.50" y1="267.20" x2="603.50" y2="271.40" stroke="#444" stroke-width="0.8"/>
<line x1="603.50" y1="274.80" x2="603.50" y2="278.70" stroke="#444" stroke-width="0.8"/>
<rect x="601.40" y="271.40" width="4.20" height="3.40" fill="#fff" stroke="#555" stroke-width="0.65"/>
<line x1="601.40" y1="273.10" x2="605.60" y2="273.10" stroke="#555" stroke-width="0.55"/>
<line x1="618.60" y1="255.80" x2="618.60" y2="260.90" stroke="#444" stroke-width="0.8"/>
<line x1="618.60" y1="265.70" x2="618.60" y2="270.20" stroke="#444" stroke-width="0.8"/>
<rect x="616.50" y="260.90" width="4.20" height="4.80" fill="#fff" stroke="#555" stroke-width="0.65"/>
<line x1="616.50" y1="263.40" x2="620.70" y2="263.40" stroke="#555" stroke-width="0.55"/>
<line x1="635.70" y1="242.30" x2="635.70" y2="248.90" stroke="#222" stroke-width="0.8"/>
<line x1="635.70" y1="254.00" x2="635.70" y2="260.30" stroke="#222" stroke-width="0.8"/>
<rect x="633.55" y="248.90" width="4.30" height="5.10" fill="#fff" stroke="#777" stroke-width="0.65"/>
<line x1="633.55" y1="251.60" x2="637.85" y2="251.60" stroke="#777" stroke-width="0.55"/>
<circle cx="635.70" cy="239.80" r="1.05" fill="#111"/>
<circle cx="635.70" cy="263.10" r="1.05" fill="#111"/>
<line x1="655.50" y1="227.80" x2="655.50" y2="236.50" stroke="#555" stroke-width="0.8"/>
<line x1="655.50" y1="243.70" x2="655.50" y2="251.50" stroke="#555" stroke-width="0.8"/>
<rect x="653.30" y="236.50" width="4.40" height="7.20" fill="#fff" stroke="#444" stroke-width="0.65"/>
<line x1="653.30" y1="240.60" x2="657.70" y2="240.60" stroke="#444" stroke-width="0.55"/>
<line x1="677.00" y1="213.40" x2="677.00" y2="221.20" stroke="#aaa" stroke-width="0.8"/>
<line x1="677.00" y1="230.30" x2="677.00" y2="242.70" stroke="#aaa" stroke-width="0.8"/>
<rect x="674.70" y="221.20" width="4.60" height="9.10" fill="#fff" stroke="#888" stroke-width="0.65"/>
<line x1="674.70" y1="225.20" x2="679.30" y2="225.20" stroke="#888" stroke-width="0.55"/>
<line x1="557.60" y1="207.80" x2="557.60" y2="301.50" stroke="#9a9a9a" stroke-width="1.2"/>
<line x1="557.00" y1="301.10" x2="685.00" y2="301.10" stroke="#6a6a6a" stroke-width="1.0"/>
<line x1="553.90" y1="297.40" x2="557.00" y2="297.40" stroke="#444" stroke-width="0.9"/>
<text x="549.00" y="300.05" font-size="7.5" text-anchor="end" fill="#222" stroke="#222" stroke-width="0.1" textLength="3.96" lengthAdjust="spacingAndGlyphs">0</text>
<line x1="553.90" y1="280.50" x2="557.00" y2="280.50" stroke="#444" stroke-width="0.9"/>
<text x="549.00" y="283.15" font-size="7.5" text-anchor="end" fill="#222" stroke="#222" stroke-width="0.1" textLength="13.87" lengthAdjust="spacingAndGlyphs">0.05</text>
<line x1="553.90" y1="263.60" x2="557.00" y2="263.60" stroke="#444" stroke-width="0.9"/>
<text x="549.00" y="266.25" font-size="7.5" text-anchor="end" fill="#222" stroke="#222" stroke-width="0.1" textLength="13.87" lengthAdjust="spacingAndGlyphs">0.10</text>
<line x1="553.90" y1="246.70" x2="557.00" y2="246.70" stroke="#444" stroke-width="0.9"/>
<text x="549.00" y="249.35" font-size="7.5" text-anchor="end" fill="#222" stroke="#222" stroke-width="0.1" textLength="13.87" lengthAdjust="spacingAndGlyphs">0.15</text>
<line x1="553.90" y1="229.80" x2="557.00" y2="229.80" stroke="#444" stroke-width="0.9"/>
<text x="549.00" y="232.45" font-size="7.5" text-anchor="end" fill="#222" stroke="#222" stroke-width="0.1" textLength="13.87" lengthAdjust="spacingAndGlyphs">0.20</text>
<line x1="553.90" y1="212.90" x2="557.00" y2="212.90" stroke="#444" stroke-width="0.9"/>
<text x="549.00" y="215.55" font-size="7.5" text-anchor="end" fill="#222" stroke="#222" stroke-width="0.1" textLength="13.87" lengthAdjust="spacingAndGlyphs">0.25</text>
<line x1="562.20" y1="301.10" x2="562.20" y2="304.60" stroke="#444" stroke-width="0.9"/>
<text x="562.20" y="314.70" font-size="7.5" text-anchor="middle" fill="#222" stroke="#222" stroke-width="0.1" textLength="3.96" lengthAdjust="spacingAndGlyphs">0</text>
<line x1="608.30" y1="301.10" x2="608.30" y2="304.60" stroke="#444" stroke-width="0.9"/>
<text x="608.30" y="314.70" font-size="7.5" text-anchor="middle" fill="#222" stroke="#222" stroke-width="0.1" textLength="9.90" lengthAdjust="spacingAndGlyphs">0.1</text>
<line x1="654.40" y1="301.10" x2="654.40" y2="304.60" stroke="#444" stroke-width="0.9"/>
<text x="654.40" y="314.70" font-size="7.5" text-anchor="middle" fill="#222" stroke="#222" stroke-width="0.1" textLength="9.90" lengthAdjust="spacingAndGlyphs">0.2</text>
<text x="620.80" y="327.20" font-size="9.2" text-anchor="middle" fill="#222" stroke="#222" stroke-width="0.1" textLength="31.00" lengthAdjust="spacingAndGlyphs">TI (true)</text>
<text x="525.00" y="254.50" font-size="9.2" text-anchor="middle" fill="#222" stroke="#222" stroke-width="0.1" textLength="46.00" lengthAdjust="spacingAndGlyphs" transform="rotate(-90 525.00 254.50)">TI (inferred)</text>
</svg>
</body></html>
